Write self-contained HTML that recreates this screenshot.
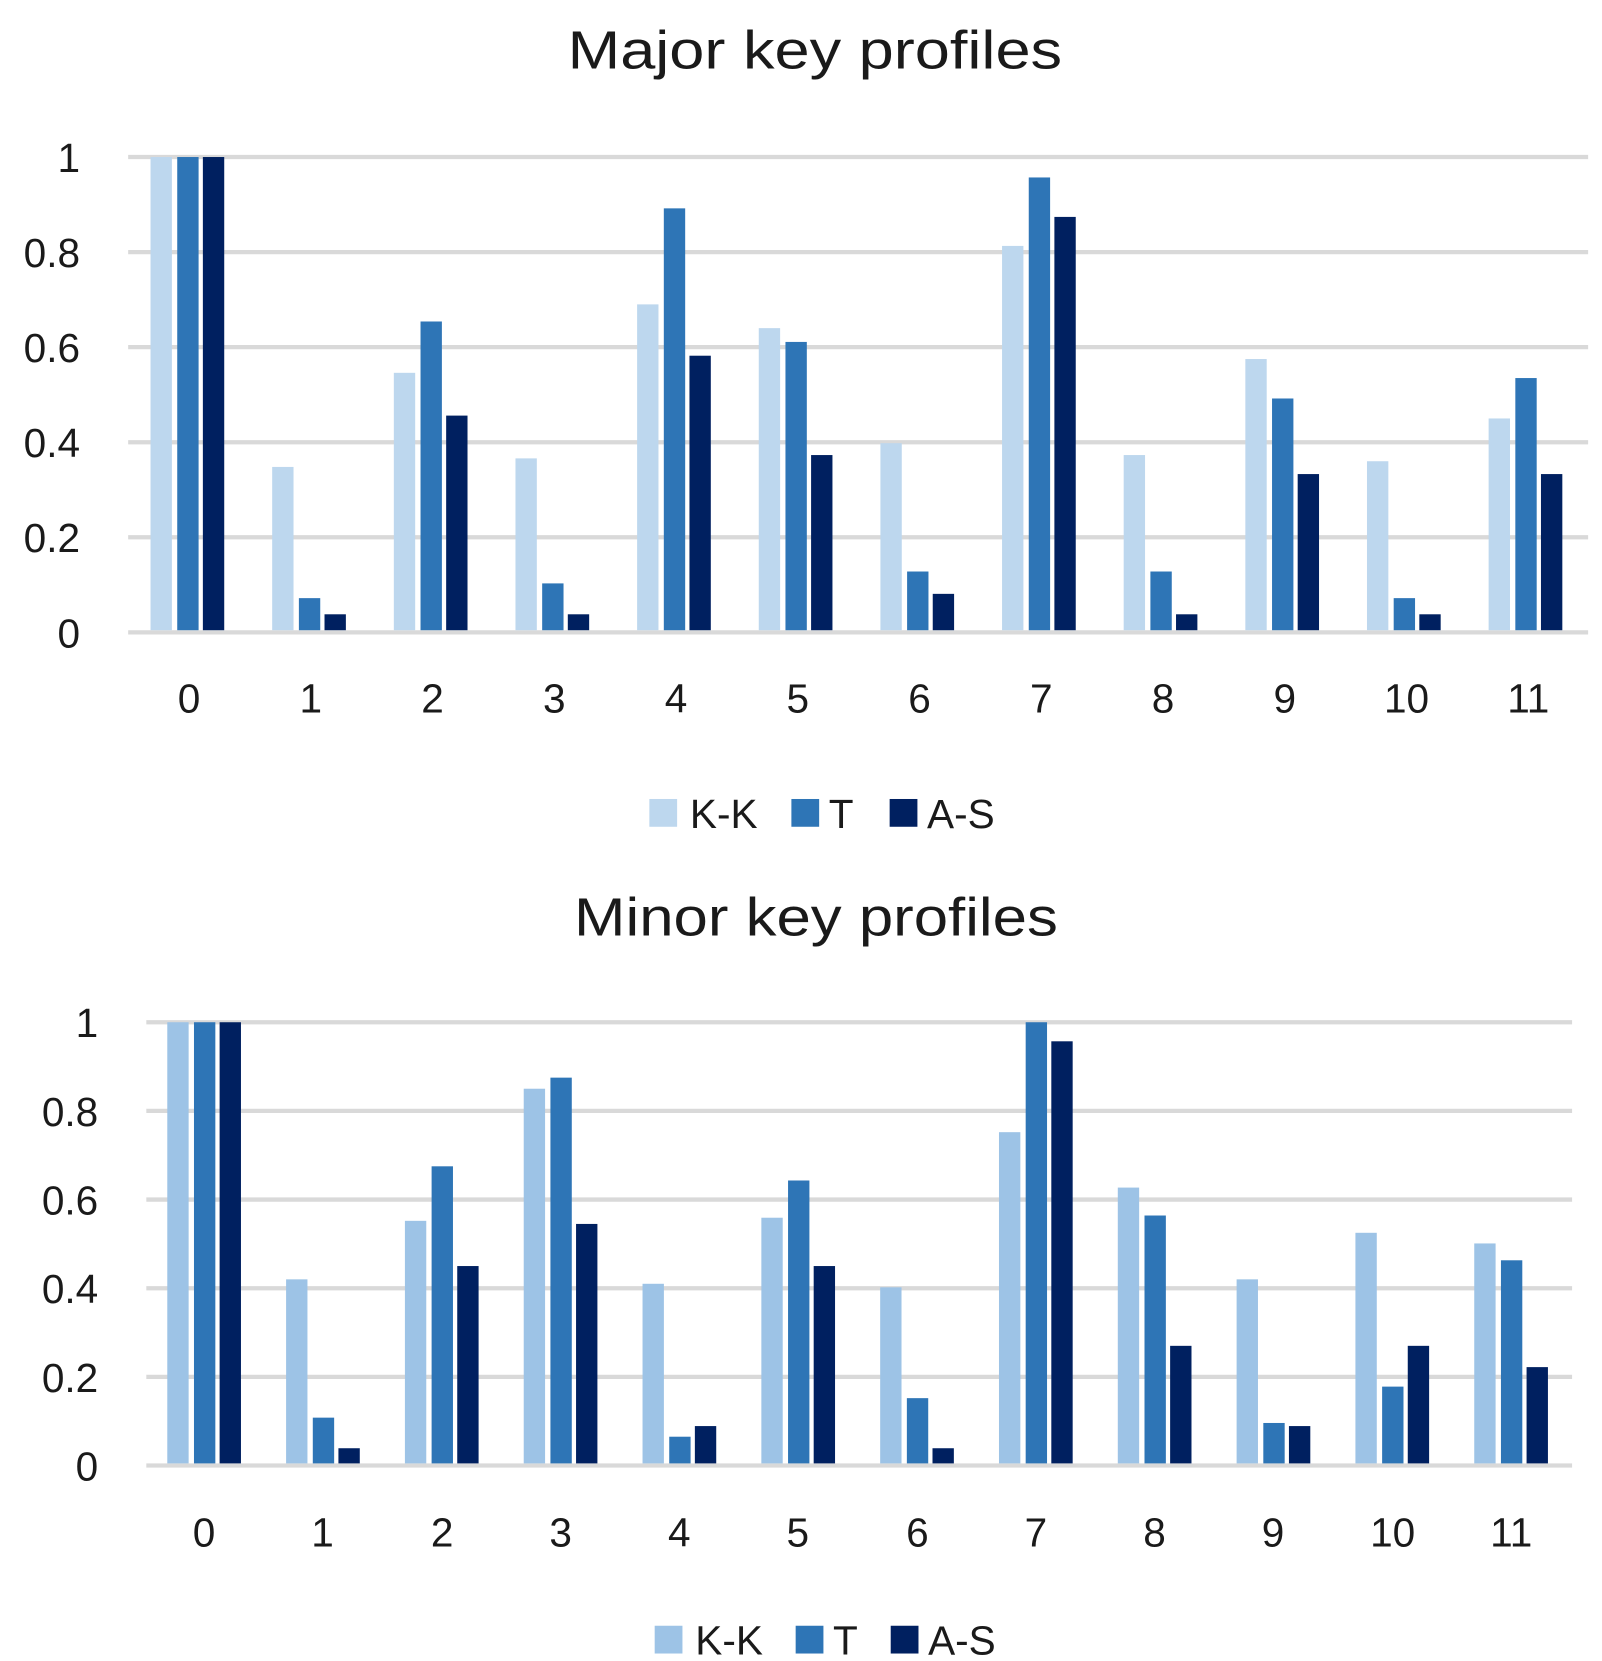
<!DOCTYPE html>
<html><head><meta charset="utf-8"><style>
html,body{margin:0;padding:0;background:#fff;}
svg{display:block;}
text{font-family:"Liberation Sans",sans-serif;fill:#1a1a1a;}
</style></head><body>
<svg id="s" width="1602" height="1661" viewBox="0 0 1500 1555" preserveAspectRatio="none" xmlns="http://www.w3.org/2000/svg">
<rect width="1500" height="1555" fill="#fff"/>
<text x="763" y="64" font-size="50" text-anchor="middle" textLength="463" lengthAdjust="spacingAndGlyphs">Major key profiles</text>
<g stroke="#d9d9d9" stroke-width="4">
<line x1="120" x2="1487" y1="147" y2="147"/><line x1="120" x2="1487" y1="236" y2="236"/><line x1="120" x2="1487" y1="325" y2="325"/><line x1="120" x2="1487" y1="414" y2="414"/><line x1="120" x2="1487" y1="503" y2="503"/><line x1="120" x2="1487" y1="592" y2="592"/>
</g>
<g font-size="38" text-anchor="end">
<text x="75" y="161">1</text><text x="75" y="250">0.8</text><text x="75" y="339">0.6</text><text x="75" y="428">0.4</text><text x="75" y="517">0.2</text><text x="75" y="606">0</text>
</g>
<g font-size="38" text-anchor="middle">
<text x="177" y="667">0</text><text x="291" y="667">1</text><text x="405" y="667">2</text><text x="519" y="667">3</text><text x="633" y="667">4</text><text x="747" y="667">5</text><text x="861" y="667">6</text><text x="975" y="667">7</text><text x="1089" y="667">8</text><text x="1203" y="667">9</text><text x="1317" y="667">10</text><text x="1431" y="667">11</text>
</g>
<rect x="608" y="748" width="26" height="26" fill="#bdd7ee"/><text x="646" y="775" font-size="38">K-K</text>
<rect x="741" y="748" width="26" height="26" fill="#2e75b6"/><text x="776" y="775" font-size="38">T</text>
<rect x="833" y="748" width="26" height="26" fill="#002060"/><text x="868" y="775" font-size="38">A-S</text>

<text x="764" y="876" font-size="50" text-anchor="middle" textLength="453" lengthAdjust="spacingAndGlyphs">Minor key profiles</text>
<g stroke="#d9d9d9" stroke-width="4">
<line x1="137" x2="1472" y1="957" y2="957"/><line x1="137" x2="1472" y1="1040" y2="1040"/><line x1="137" x2="1472" y1="1123" y2="1123"/><line x1="137" x2="1472" y1="1206" y2="1206"/><line x1="137" x2="1472" y1="1289" y2="1289"/><line x1="137" x2="1472" y1="1372" y2="1372"/>
</g>
<g font-size="38" text-anchor="end">
<text x="92" y="971">1</text><text x="92" y="1054">0.8</text><text x="92" y="1137">0.6</text><text x="92" y="1220">0.4</text><text x="92" y="1303">0.2</text><text x="92" y="1386">0</text>
</g>
<g font-size="38" text-anchor="middle">
<text x="191" y="1448">0</text><text x="302" y="1448">1</text><text x="414" y="1448">2</text><text x="525" y="1448">3</text><text x="636" y="1448">4</text><text x="747" y="1448">5</text><text x="859" y="1448">6</text><text x="970" y="1448">7</text><text x="1081" y="1448">8</text><text x="1192" y="1448">9</text><text x="1304" y="1448">10</text><text x="1415" y="1448">11</text>
</g>
<rect x="613" y="1522" width="26" height="26" fill="#9dc3e6"/><text x="651" y="1549" font-size="38">K-K</text>
<rect x="745" y="1522" width="26" height="26" fill="#2e75b6"/><text x="780" y="1549" font-size="38">T</text>
<rect x="834" y="1522" width="26" height="26" fill="#002060"/><text x="869" y="1549" font-size="38">A-S</text>
<g id="bars"></g>
</svg>
<script>
var g=document.getElementById('bars'),NS='http://www.w3.org/2000/svg';
function bar(x,y0,h,c){var r=document.createElementNS(NS,'rect');r.setAttribute('x',x);r.setAttribute('y',y0-h);r.setAttribute('width',20);r.setAttribute('height',h);r.setAttribute('fill',c);g.appendChild(r);}
function chart(x0,w,y0,ht,data,cols){for(var i=0;i<12;i++){var c=x0+w*(i+0.5);var offs=[-36,-11,13];for(var s=0;s<3;s++)bar(c+offs[s],y0-2,data[s][i]*ht-2,cols[s]);}}
chart(120,113.9,592,445,[
[1,.348,.546,.366,.69,.64,.398,.813,.373,.575,.36,.45],
[1,.072,.654,.103,.892,.611,.128,.957,.128,.492,.072,.535],
[1,.038,.456,.038,.582,.373,.081,.874,.038,.333,.038,.333]],['#bdd7ee','#2e75b6','#002060']);
chart(137,111.25,1372,415,[
[1,.42,.552,.85,.41,.559,.402,.752,.627,.42,.525,.501],
[1,.108,.675,.875,.065,.643,.152,1,.564,.096,.178,.463],
[1,.039,.45,.545,.089,.45,.039,.957,.27,.089,.27,.222]],['#9dc3e6','#2e75b6','#002060']);
</script>
</body></html>
